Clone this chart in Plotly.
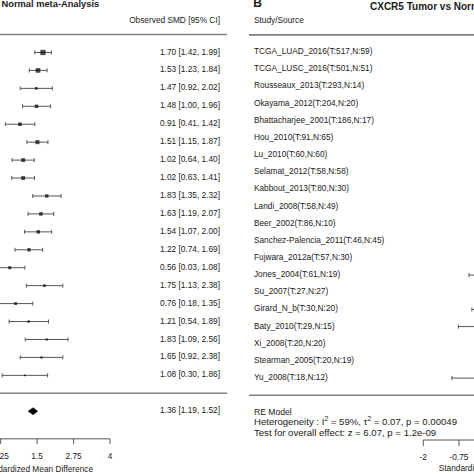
import plotly.graph_objects as go

# ---------------- Panel A (left, cropped) ----------------
a_est = [1.70, 1.53, 1.47, 1.48, 0.91, 1.51, 1.02, 1.02, 1.83, 1.63,
         1.54, 1.22, 0.56, 1.75, 0.76, 1.21, 1.83, 1.65, 1.08]
a_lo = [1.42, 1.23, 0.92, 1.00, 0.41, 1.15, 0.64, 0.63, 1.35, 1.19,
        1.07, 0.74, 0.03, 1.13, 0.18, 0.54, 1.09, 0.92, 0.30]
a_hi = [1.99, 1.84, 2.02, 1.96, 1.42, 1.87, 1.40, 1.41, 2.32, 2.07,
        2.00, 1.69, 1.08, 2.38, 1.35, 1.89, 2.56, 2.38, 1.86]
a_wt = [8.5, 7.5, 4.3, 5.5, 5.8, 6.5, 6.3, 6.2, 5.5, 5.7,
        5.6, 5.5, 5.0, 4.3, 4.6, 3.9, 3.5, 3.6, 2.8]
a_sum = [1.36, 1.19, 1.52]
a_ticks = [-1, 0.25, 1.5, 2.75, 4]
a_tick_labels = ["-1", "0.25", "1.5", "2.75", "4"]
a_title = "Normal meta-Analysis"
a_header = "Observed SMD [95% CI]"
xlab = "Standardized Mean Difference"

# ---------------- Panel B (right, cropped) ----------------
b_studies = ["TCGA_LUAD_2016(T:517,N:59)", "TCGA_LUSC_2016(T:501,N:51)",
             "Rousseaux_2013(T:293,N:14)", "Okayama_2012(T:204,N:20)",
             "Bhattacharjee_2001(T:186,N:17)", "Hou_2010(T:91,N:65)",
             "Lu_2010(T:60,N:60)", "Selamat_2012(T:58,N:58)",
             "Kabbout_2013(T:80,N:30)", "Landi_2008(T:58,N:49)",
             "Beer_2002(T:86,N:10)", "Sanchez-Palencia_2011(T:46,N:45)",
             "Fujwara_2012a(T:57,N:30)", "Jones_2004(T:61,N:19)",
             "Su_2007(T:27,N:27)", "Girard_N_b(T:30,N:20)",
             "Baty_2010(T:29,N:15)", "Xi_2008(T:20,N:20)",
             "Stearman_2005(T:20,N:19)", "Yu_2008(T:18,N:12)"]
b_est = [0.45, 0.62, 0.80, 0.70, 0.95, 0.60, 0.40, 0.35, 0.55, 0.30,
         1.10, 0.25, 0.65, 0.15, 0.40, 0.28, 0.00, 0.70, 0.90, -0.05]
b_lo = [0.17, 0.33, 0.26, 0.24, 0.45, 0.28, 0.04, -0.02, 0.10, -0.08,
        0.42, -0.16, 0.19, -0.40, -0.14, -0.30, -0.77, 0.06, 0.24, -1.00]
b_hi = [0.72, 0.91, 1.35, 1.16, 1.45, 0.92, 0.76, 0.72, 1.00, 0.68,
        1.78, 0.66, 1.11, 0.69, 0.94, 0.85, 0.77, 1.34, 1.56, 0.90]
b_wt = [8.0, 7.8, 4.5, 5.5, 5.0, 7.0, 6.2, 6.2, 5.5, 6.0,
        3.5, 5.8, 5.2, 4.0, 4.2, 3.8, 3.0, 3.6, 3.4, 2.8]
b_sum = [0.50, 0.34, 0.66]
b_ticks = [-2, -0.75, 0.5, 1.75, 3]
b_tick_labels = ["-2", "-0.75", "0.5", "1.75", "3"]
b_label = "B"
b_title = "CXCR5 Tumor vs Normal meta-Analysis"
b_header = "Study/Source"
b_model = "RE Model"
b_het = "Heterogeneity : I<sup>2</sup> = 59%, τ<sup>2</sup> = 0.07, p = 0.00049"
b_test = "Test for overall effect: z = 6.07, p = 1.2e-09"

# ---------------- styling ----------------
FONT = "Liberation Sans, Arial, sans-serif"
TXT = "#1a1a1a"
FS = 8.3
CI_COL = "#555555"
SEP_COL = "#808080"

a_rows = list(range(1, len(a_est) + 1))
b_rows = list(range(1, len(b_est) + 1))
A = ("x", "y")
B = ("x2", "y2")

fig = go.Figure()


def add_text(axes, x, y, text, pos, size=FS):
    fig.add_trace(go.Scatter(
        x=x, y=y, text=text, mode="text", textposition=pos,
        textfont=dict(family=FONT, size=size, color=TXT),
        xaxis=axes[0], yaxis=axes[1], showlegend=False, hoverinfo="skip"))


def add_line(axes, x, y, color, width):
    fig.add_trace(go.Scatter(
        x=x, y=y, mode="lines", line=dict(color=color, width=width),
        xaxis=axes[0], yaxis=axes[1], showlegend=False, hoverinfo="skip"))


def add_panel(axes, est, lo, hi, wt, rows, sep_x, sep_rows, summ):
    # separator lines
    for r in sep_rows:
        add_line(axes, sep_x, [r, r], SEP_COL, 1.6)
    # CIs and squares
    fig.add_trace(go.Scatter(
        x=est, y=rows, mode="markers",
        marker=dict(symbol="square", color="black",
                    size=[w * 0.62 for w in wt], line=dict(width=0)),
        error_x=dict(type="data", symmetric=False,
                     array=[h - e for h, e in zip(hi, est)],
                     arrayminus=[e - l for e, l in zip(est, lo)],
                     color=CI_COL, thickness=1, width=2),
        xaxis=axes[0], yaxis=axes[1], showlegend=False, hoverinfo="skip"))
    # summary diamond
    srow = sep_rows[1] + 1
    h = 0.2
    fig.add_trace(go.Scatter(
        x=[summ[1], summ[0], summ[2], summ[0], summ[1]],
        y=[srow, srow - h, srow, srow + h, srow],
        mode="lines", fill="toself", fillcolor="black",
        line=dict(color="black", width=0.5),
        xaxis=axes[0], yaxis=axes[1], showlegend=False, hoverinfo="skip"))


def add_axis(axes, ticks, labels, line_row, tick_row, lab_row, title_row, title_x):
    add_line(axes, [ticks[0], ticks[-1]], [line_row, line_row], CI_COL, 1)
    xs, ys = [], []
    for t in ticks:
        xs += [t, t, None]
        ys += [line_row, tick_row, None]
    add_line(axes, xs, ys, CI_COL, 1)
    add_text(axes, ticks, [lab_row] * len(ticks), labels, "middle center")
    add_text(axes, [title_x], [title_row], [xlab], "middle center")


# ---- Panel A ----
add_panel(A, a_est, a_lo, a_hi, a_wt, a_rows, [-2, 8.013], [0, 20], a_sum)
a_txt = [f"{e:.2f} [{l:.2f}, {h:.2f}]" for e, l, h in zip(a_est, a_lo, a_hi)]
add_text(A, [7.773] * len(a_rows), a_rows, a_txt, "middle left")
add_text(A, [7.773], [21], [f"{a_sum[0]:.2f} [{a_sum[1]:.2f}, {a_sum[2]:.2f}]"], "middle left")
add_text(A, [7.773], [-0.733], [a_header], "middle left")
add_text(A, [0.28], [-1.676], [f"<b>{a_title}</b>"], "middle right", size=9.3)
add_axis(A, a_ticks, a_tick_labels, 22.54, 22.82, 23.55, 24.27, 1.5)

# ---- Panel B ----
add_panel(B, b_est, b_lo, b_hi, b_wt, b_rows, [-8.103, 5], [0, 21], b_sum)
add_text(B, [-7.928] * len(b_rows), b_rows, b_studies, "middle right")
add_text(B, [-7.928], [-0.807], [b_header], "middle right")
add_text(B, [-7.95], [-1.80], [f"<b>{b_label}</b>"], "middle right", size=12)
add_text(B, [-3.866], [-1.622], [f"<b>{b_title}</b>"], "middle right", size=10)
add_text(B, [-7.928], [22.04], [b_model], "middle right", size=8.6)
add_text(B, [-7.928], [22.6], [b_het], "middle right", size=9.6)
add_text(B, [-7.928], [23.25], [b_test], "middle right", size=9.6)
add_axis(B, b_ticks, b_tick_labels, 23.61, 23.96, 24.66, 25.30, 0.5)

fig.update_layout(
    width=474, height=474,
    margin=dict(l=0, r=0, t=0, b=0),
    paper_bgcolor="white", plot_bgcolor="white",
    xaxis=dict(range=[0.226, 16.487], visible=False, domain=[0, 1]),
    yaxis=dict(range=[24.50, -1.926], visible=False, domain=[0, 1]),
    xaxis2=dict(range=[-16.82, -0.225], visible=False, overlaying="x", anchor="y2"),
    yaxis2=dict(range=[25.59, -2.03], visible=False, overlaying="y", anchor="x2"),
    showlegend=False,
)

fig.write_html("out.html")
